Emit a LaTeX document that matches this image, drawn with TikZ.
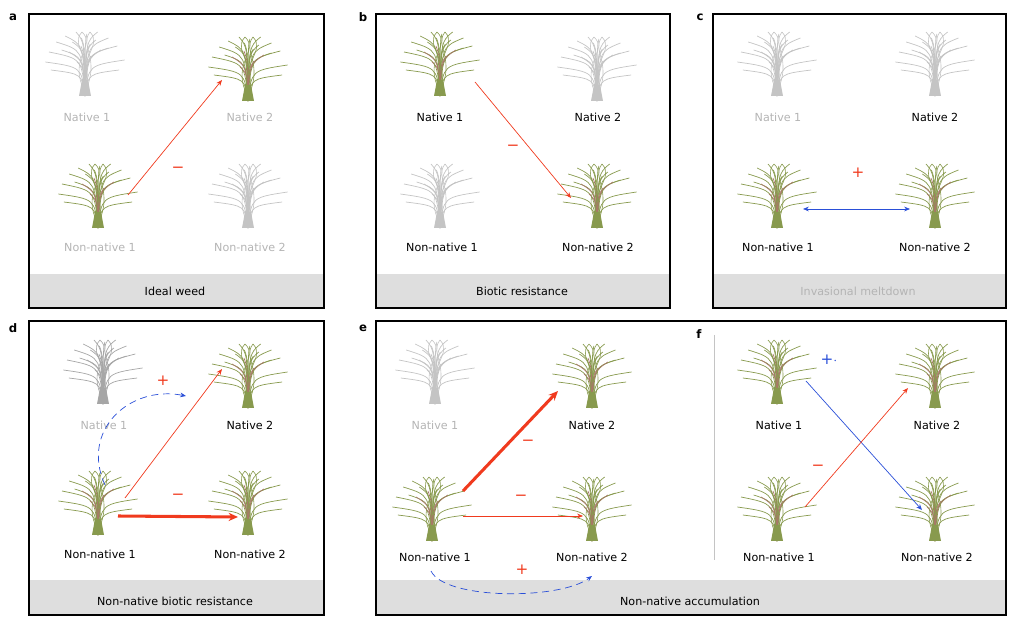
\documentclass[tikz,border=0pt]{standalone}
\usepackage{fontspec}
\setmainfont{DejaVu Sans}
\usetikzlibrary{arrows.meta}
\definecolor{grassg}{HTML}{889A4E}
\definecolor{grassr}{HTML}{A87868}
\definecolor{fadeg}{HTML}{C4C4C4}
\definecolor{fadet}{HTML}{B4B4B4}
\definecolor{footg}{HTML}{DEDEDE}
\definecolor{arred}{HTML}{F03A1E}
\definecolor{arblue}{HTML}{2A4FD8}
\tikzset{
  x=0.03cm,y=-0.03cm,
  panel/.style={draw=black,line width=1.5pt},
  foot/.style={fill=footg},
  lab/.style={font=\fontsize{9.5}{10}\selectfont,inner sep=1pt},
  faded/.style={lab,text=fadet},
  plabel/.style={font=\bfseries\fontsize{10}{11}\selectfont},
  sign/.style={font=\fontsize{13}{13}\selectfont},
  redarr/.style={draw=arred,line width=0.6pt,-{Stealth[length=5pt,width=4pt]}},
  bluearr/.style={draw=arblue,line width=0.6pt,-{Stealth[length=5pt,width=4pt]}},
  pics/grass/.style args={#1/#2}{code={
    \foreach \tx/\ty in {-44/-34,-40/-44,-32/-54,-22/-60,-10/-64,2/-62,14/-64,26/-58,36/-50,44/-36,-26/-46,26/-48,-14/-54,12/-56,-38/-26,38/-26,-4/-58,6/-52}{
      \draw[#1,line width=0.6pt] (0,0) .. controls (0.08*\tx,0.85*\ty) .. (0.9*\tx,\ty);}
    \foreach \tx/\ty in {-16/-44,16/-46,-4/-50,6/-40,-8/-34}{
      \draw[#2,line width=0.6pt] (0,0) .. controls (0.1*\tx,0.8*\ty) .. (\tx,\ty);}
    \foreach \a/\b in {-18/12,-8/18,10/-16,16/-6}{
      \draw[#1,line width=0.5pt] (0,-4) .. controls (\a,-38) and (\b,-50) .. (0.5*\a+0.5*\b,-64);}
    \fill[#1] (-6,0) -- (6,0) -- (3,-16) -- (-3,-16) -- cycle;
  }}
}
\begin{document}
\begin{tikzpicture}
\useasboundingbox (0,0) rectangle (1024,629);
\fill[foot] (28,274) rectangle (323,307);
\fill[foot] (375,274) rectangle (669,307);
\fill[foot] (712,274) rectangle (1005,307);
\fill[foot] (28,580) rectangle (323,614);
\fill[foot] (375,580) rectangle (1005,614);
\node[panel,minimum width=295*0.03cm,minimum height=294*0.03cm,anchor=north west] (pa) at (28,13) {};
\node[panel,minimum width=294*0.03cm,minimum height=294*0.03cm,anchor=north west] (pb) at (375,13) {};
\node[panel,minimum width=293*0.03cm,minimum height=294*0.03cm,anchor=north west] (pc) at (712,13) {};
\node[panel,minimum width=295*0.03cm,minimum height=294*0.03cm,anchor=north west] (pd) at (28,320) {};
\node[panel,minimum width=630*0.03cm,minimum height=294*0.03cm,anchor=north west] (pe) at (375,320) {};
\node[plabel] (la) at (13,17) {a};
\node[plabel] (lb) at (363,17) {b};
\node[plabel] (lc) at (700,17) {c};
\node[plabel] (ld) at (13,328) {d};
\node[plabel] (le) at (363,328) {e};
\node[plabel] (lf) at (699,334) {f};
\draw[fadeg,line width=0.6pt] (714,335) -- (714,560);
\node[lab] (fa) at (175,291) {Ideal weed};
\node[lab] (fb) at (522,291) {Biotic resistance};
\node[faded] (fc) at (858,291) {Invasional meltdown};
\node[lab] (fd) at (175,601) {Non-native biotic resistance};
\node[lab] (fe) at (690,601) {Non-native accumulation};
% ---------- panel a
\pic at (85,96) {grass={fadeg/fadeg}};
\pic at (248,101) {grass={grassg/grassr}};
\pic at (98,228) {grass={grassg/grassr}};
\pic at (248,228) {grass={fadeg/fadeg}};
\node[faded] (a1) at (87,117) {Native 1};
\node[faded] (a2) at (250,117) {Native 2};
\node[faded] (a3) at (100,247) {Non-native 1};
\node[faded] (a4) at (250,247) {Non-native 2};
\coordinate (a3s) at (128,195); \coordinate (a2e) at (222,80);
\draw[redarr] (a3s) -- (a2e);
\node[sign,text=arred] (am) at (178,170) {\textminus};
% ---------- panel b
\pic at (440,96) {grass={grassg/grassr}};
\pic at (597,101) {grass={fadeg/fadeg}};
\pic at (440,228) {grass={fadeg/fadeg}};
\pic at (597,228) {grass={grassg/grassr}};
\node[lab] (b1) at (440,117) {Native 1};
\node[lab] (b2) at (598,117) {Native 2};
\node[lab] (b3) at (442,247) {Non-native 1};
\node[lab] (b4) at (598,247) {Non-native 2};
\coordinate (b1s) at (475,82); \coordinate (b4e) at (571,198);
\draw[redarr] (b1s) -- (b4e);
\node[sign,text=arred] (bm) at (513,148) {\textminus};
% ---------- panel c
\pic at (777,96) {grass={fadeg/fadeg}};
\pic at (935,96) {grass={fadeg/fadeg}};
\pic at (777,228) {grass={grassg/grassr}};
\pic at (935,228) {grass={grassg/grassr}};
\node[faded] (c1) at (778,117) {Native 1};
\node[lab] (c2) at (935,117) {Native 2};
\node[lab] (c3) at (778,247) {Non-native 1};
\node[lab] (c4) at (935,247) {Non-native 2};
\coordinate (c3s) at (803,209); \coordinate (c4e) at (910,209);
\draw[bluearr,{Stealth[length=5pt,width=4pt]}-{Stealth[length=5pt,width=4pt]}] (c3s) -- (c4e);
\node[sign,text=arred] (cp) at (858,173) {+};
% ---------- panel d
\pic at (103,404) {grass={gray!70/gray!70}};
\pic at (248,408) {grass={grassg/grassr}};
\pic at (98,535) {grass={grassg/grassr}};
\pic at (248,535) {grass={grassg/grassr}};
\node[faded] (d1) at (104,425) {Native 1};
\node[lab] (d2) at (250,425) {Native 2};
\node[lab] (d3) at (100,554) {Non-native 1};
\node[lab] (d4) at (250,554) {Non-native 2};
\coordinate (d3s) at (125,498); \coordinate (d2e) at (222,369);
\draw[redarr] (d3s) -- (d2e);
\coordinate (d3t) at (118,516); \coordinate (d4e) at (238,517);
\draw[draw=arred,line width=2.6pt,-{Stealth[length=8pt,width=7pt]}] (d3t) -- (d4e);
\node[sign,text=arred] (dm) at (178,497) {\textminus};
\node[sign,text=arred] (dp) at (163,381) {+};
\coordinate (d3b) at (105,485); \coordinate (d1e) at (186,396);
\draw[bluearr,dashed,dash pattern=on 6pt off 4pt] (d3b) .. controls (80,430) and (130,385) .. (d1e);
% ---------- panel e
\pic at (435,404) {grass={fadeg/fadeg}};
\pic at (592,408) {grass={grassg/grassr}};
\pic at (432,541) {grass={grassg/grassr}};
\pic at (592,541) {grass={grassg/grassr}};
\node[faded] (e1) at (435,425) {Native 1};
\node[lab] (e2) at (592,425) {Native 2};
\node[lab] (e3) at (435,557) {Non-native 1};
\node[lab] (e4) at (592,557) {Non-native 2};
\coordinate (e3s) at (463,491); \coordinate (e2e) at (558,391);
\draw[draw=arred,line width=2.6pt,-{Stealth[length=8pt,width=7pt]}] (e3s) -- (e2e);
\coordinate (e3t) at (463,516); \coordinate (e4e) at (583,516);
\draw[redarr] (e3t) -- (e4e);
\node[sign,text=arred] (em1) at (528,443) {\textminus};
\node[sign,text=arred] (em2) at (521,498) {\textminus};
\node[sign,text=arred] (ep) at (522,570) {+};
\coordinate (e3b) at (431,571); \coordinate (e4b) at (592,576);
\draw[bluearr,dashed,dash pattern=on 6pt off 4pt] (e3b) .. controls (445,600) and (560,600) .. (e4b);
% ---------- panel f
\pic at (777,404) {grass={grassg/grassr}};
\pic at (935,408) {grass={grassg/grassr}};
\pic at (777,541) {grass={grassg/grassr}};
\pic at (935,541) {grass={grassg/grassr}};
\node[lab] (f1) at (779,425) {Native 1};
\node[lab] (f2) at (937,425) {Native 2};
\node[lab] (f3) at (779,557) {Non-native 1};
\node[lab] (f4) at (937,557) {Non-native 2};
\coordinate (f1s) at (806,381); \coordinate (f4e) at (922,510);
\draw[bluearr] (f1s) -- (f4e);
\coordinate (f3s) at (805,507); \coordinate (f2e) at (908,388);
\draw[redarr] (f3s) -- (f2e);
\node[sign,text=arblue] (fp) at (829,360) {+$\cdot$};
\node[sign,text=arred] (fm) at (818,468) {\textminus};
\end{tikzpicture}
\end{document}
